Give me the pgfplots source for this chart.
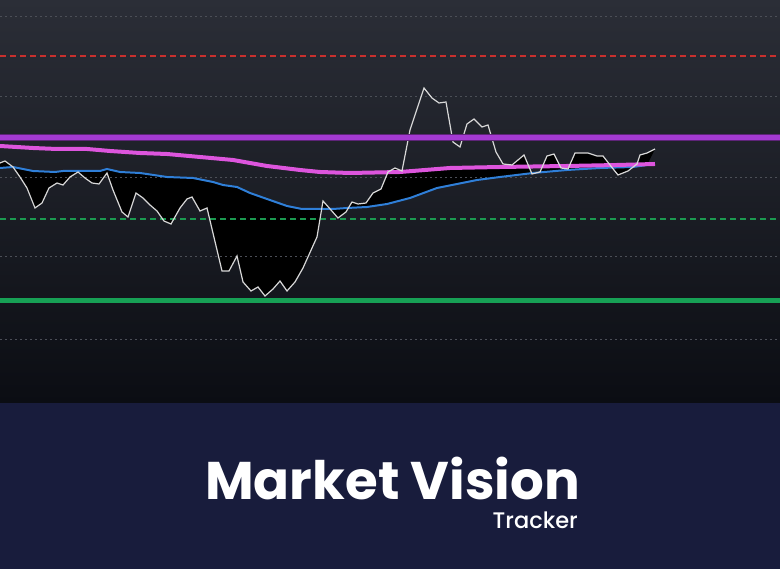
\documentclass[border=0pt]{standalone}
\usepackage{pgfplots}
\pgfplotsset{compat=1.18}
\usepgfplotslibrary{fillbetween}
\usepackage{pgfplotstable}
\usepackage{fontspec}
\setmainfont{Poppins}
\newfontfamily\popbold{Poppins}[UprightFont=* Bold]
\newfontfamily\popmed{Poppins}[UprightFont=* Medium]

\definecolor{bgtop}{HTML}{2B2E37}
\definecolor{bgbot}{HTML}{0B0D13}
\definecolor{navy}{HTML}{181C3C}
\definecolor{gridc}{HTML}{4C4F57}
\definecolor{redl}{HTML}{C8302E}
\definecolor{greenl}{HTML}{17A055}
\definecolor{greend}{HTML}{1B9A50}
\definecolor{purp}{HTML}{A43AD2}
\definecolor{purpd}{HTML}{5E2478}
\definecolor{bluel}{HTML}{2F7FD8}
\definecolor{pinkl}{HTML}{DD55DD}
\definecolor{whitel}{HTML}{D8D8D8}

\pgfplotstableread{
x y
0 163
5 161
13 167
20 177
27 188
35 208
42 203
49 188
57 183
63 185
70 177
78 172
85 178
92 183
99 184
107 173
113 190
122 212
128 217
136 193
143 198
150 205
157 211
164 221
171 224
180 208
187 199
192 197
200 211
207 208
222 271
229 271
237 256
243 282
251 291
258 287
265 296
273 289
280 281
287 291
295 282
303 268
312 248
317 237
323 201
331 210
338 218
346 212
352 202
358 204
366 203
373 193
381 189
388 172
395 168
402 171
410 130
424 88
432 98
439 103
446 102
453 142
460 147
467 124
474 119
482 127
488 125
496 152
503 164
512 165
524 155
532 174
540 172
547 156
554 154
561 168
568 169
575 153
588 153
597 156
603 156
610 165
618 175
628 171
637 164
640 155
647 153
655 149
}\price

\pgfplotstableread{
x y
0 163
5 161
13 167
20 177
27 188
35 208
42 203
49 188
57 183
63 185
70 177
78 172
85 178
92 183
99 184
107 173
113 190
122 212
128 217
136 193
143 198
150 205
157 211
164 221
171 224
180 208
187 199
192 197
200 211
207 208
222 271
229 271
237 256
243 282
251 291
258 287
265 296
273 289
280 281
287 291
295 282
303 268
312 248
317 237
323 201
331 210
338 218
346 212
352 202
358 204
366 203
373 193
381 189
388 172
395 168
402 171
420 170
450 168
480 167
500 167
503 164
512 165
524 155
532 174
540 172
547 156
554 154
561 168
568 169
575 153
588 153
597 156
603 156
610 165
618 175
628 171
637 164
640 155
647 153
655 149
}\filltop

\pgfplotstableread{
x y
0 168
13 167
33 171
55 172
63 171
100 171
107 169
120 172
140 173
167 177
193 178
213 182
223 185
237 187
250 193
267 199
287 206
302 209
333 209
347 208
367 207
387 204
410 198
437 188
457 184
477 180
500 177
533 173
567 170
600 168
633 167
647 165
}\blue

\pgfplotstableread{
x y
0 146
33 148
57 149
87 149
110 151
140 153
167 154
200 157
233 160
267 166
300 170
320 172
350 173
400 172
450 168
500 167
567 166
617 165
655 164
}\pink

\begin{document}
\begin{tikzpicture}
\begin{axis}[
  name=ax,
  width=780pt, height=403pt, scale only axis,
  xmin=0, xmax=780, ymin=0, ymax=403,
  y dir=reverse,
  axis lines=none,
  clip=true,
  axis background/.style={shade, top color=bgtop, bottom color=bgbot},
]
\addplot[draw=none, name path=ft, forget plot] table {\filltop};
\addplot[draw=none, name path=bl, forget plot] table {\blue};
\addplot[black, forget plot] fill between[of=ft and bl];

% grid lines
\addplot[gridc, line width=1pt, dash pattern=on 2pt off 3pt] coordinates {(0,17) (780,17)};
\addplot[gridc, line width=1pt, dash pattern=on 2pt off 3pt] coordinates {(0,97) (780,97)};
\addplot[gridc, line width=1pt, dash pattern=on 2pt off 3pt] coordinates {(0,178) (780,178)};
\addplot[gridc, line width=1pt, dash pattern=on 2pt off 3pt] coordinates {(0,257) (780,257)};
\addplot[gridc, line width=1pt, dash pattern=on 2pt off 3pt] coordinates {(0,340) (780,340)};

\addplot[redl, line width=1.3pt, dash pattern=on 6pt off 4pt] coordinates {(0,56) (780,56)};
\addplot[greend, line width=1.5pt, dash pattern=on 6pt off 4pt] coordinates {(0,219) (780,219)};
\addplot[greenl, line width=5pt] coordinates {(0,300.5) (780,300.5)};

\addplot[bluel, line width=2pt] table {\blue};
\addplot[pinkl, line width=4pt] table {\pink};
\addplot[whitel, line width=1.2pt] table {\price};

\addplot[purpd, line width=7pt] coordinates {(0,138) (780,138)};
\addplot[purp, line width=5pt] coordinates {(0,138) (780,138)};
\end{axis}
\fill[navy] (ax.south west) rectangle ([yshift=-166pt]ax.south east);
\node[anchor=base east, inner sep=0pt, text depth=0pt, text=white, font=\popbold\fontsize{53}{60}\selectfont]
  at ([xshift=580pt, yshift=-97pt]ax.south west) {Market Vision};
\node[anchor=base east, inner sep=0pt, text depth=0pt, text=white, font=\popmed\fontsize{22.5}{26}\selectfont]
  at ([xshift=578pt, yshift=-126pt]ax.south west) {Tracker};
\end{tikzpicture}
\end{document}
